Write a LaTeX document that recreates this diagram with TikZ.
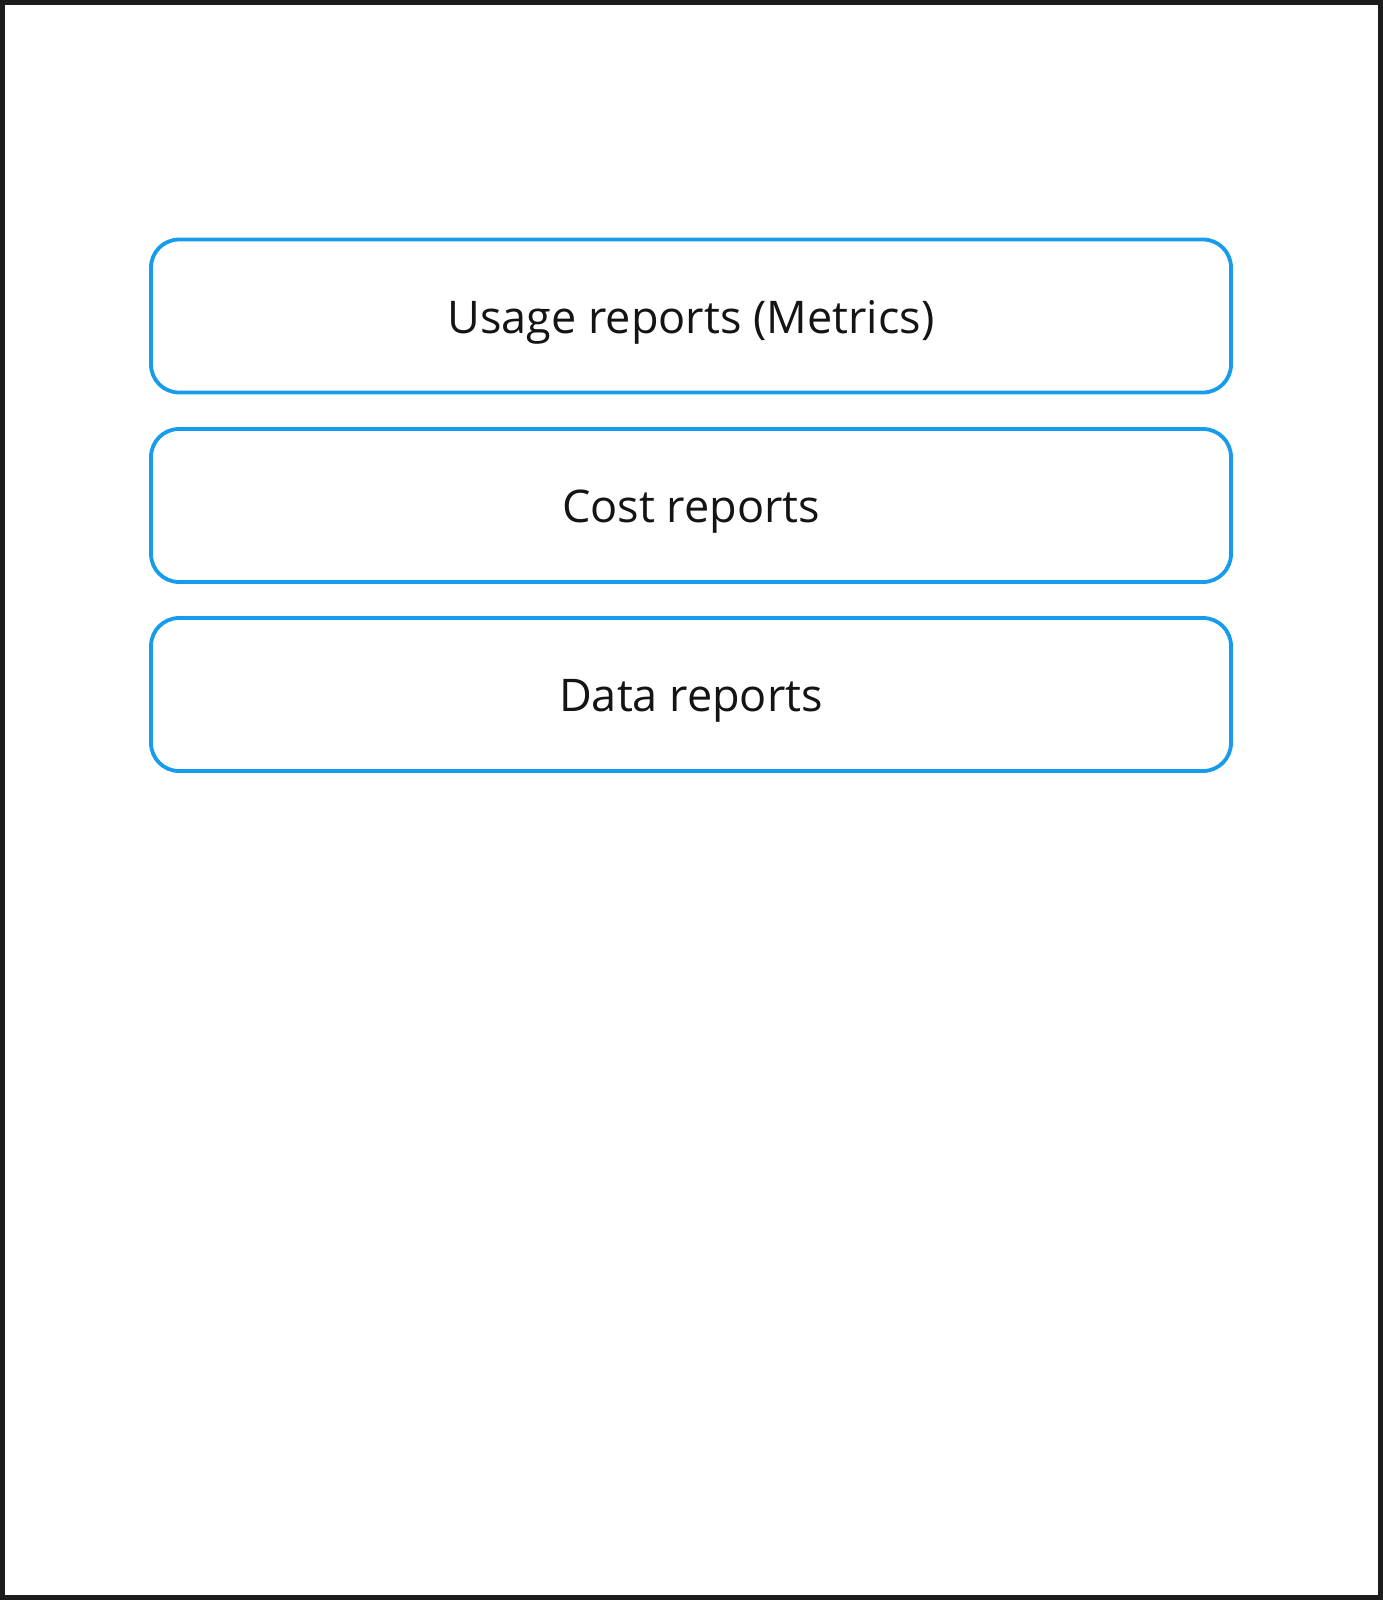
\documentclass[tikz,border=0pt]{standalone}
\usepackage{fontspec}
\setmainfont{Open Sans}
\definecolor{boxblue}{RGB}{22,156,236}
\definecolor{frame}{RGB}{28,28,28}
\definecolor{ink}{RGB}{20,20,20}
\begin{document}
\begin{tikzpicture}[x=1pt,y=-1pt,
  reportbox/.style={draw=boxblue, line width=3.8pt, rounded corners=28pt,
    minimum width=1080pt, minimum height=153pt, inner sep=0pt},
  reportlabel/.style={font=\fontsize{45}{54}\selectfont, text=ink, anchor=base}]
\useasboundingbox (0,0) rectangle (1383,1600);
\fill[white] (0,0) rectangle (1383,1600);
\draw[frame, line width=5pt] (2.5,2.5) rectangle (1380.5,1597.5);
\node[reportbox] (usage) at (691,316) {};
\node[reportbox] (cost) at (691,505.5) {};
\node[reportbox] (data) at (691,694.5) {};
\node[reportlabel] (usaget) at ([yshift=-17pt]usage.center) {Usage reports (Metrics)};
\node[reportlabel] (costt) at ([yshift=-17pt]cost.center) {Cost reports};
\node[reportlabel] (datat) at ([yshift=-17pt]data.center) {Data reports};
\end{tikzpicture}
\end{document}
